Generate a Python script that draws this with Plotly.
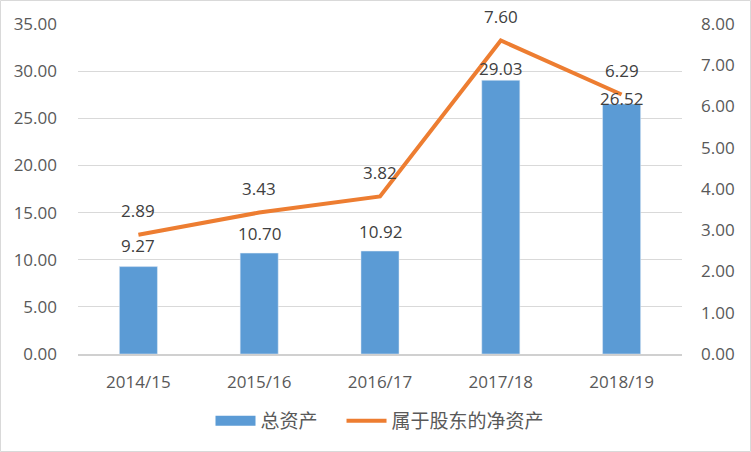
import plotly.graph_objects as go

categories = ["2014/15", "2015/16", "2016/17", "2017/18", "2018/19"]
total_assets = [9.27, 10.70, 10.92, 29.03, 26.52]
net_assets = [2.89, 3.43, 3.82, 7.60, 6.29]
bar_name = "总资产"
line_name = "属于股东的净资产"

left_ticks = [0, 5, 10, 15, 20, 25, 30, 35]
right_ticks = [0, 1, 2, 3, 4, 5, 6, 7, 8]

BLUE = "#5B9BD5"
ORANGE = "#ED7D31"
TXT = "#595959"
LBL = "#404040"
NUMFONT = "Open Sans"
CJK = "Noto Sans CJK SC"

W, H = 751, 452
ML, MR, MT, MB = 78, 69, 24, 98
PW, PH = W - ML - MR, H - MT - MB

# label shifts (px) for bar labels, as placed in the reference
bar_label_shift = [21, 20, 20, 12, 5]
line_label_shift = 24

fig = go.Figure()
fig.add_trace(go.Bar(x=categories, y=total_assets, marker_color=BLUE,
                     name=bar_name, showlegend=False, yaxis="y"))
# legend proxy for bars (em spaces widen the gap between legend entries)
fig.add_trace(go.Scatter(x=[None], y=[None], mode="lines", name=bar_name + "\u2003",
                         line=dict(color=BLUE, width=10), yaxis="y"))
fig.add_trace(go.Scatter(x=categories, y=net_assets, mode="lines", name=line_name,
                         line=dict(color=ORANGE, width=4), yaxis="y2"))

ann = []
for c, v, s in zip(categories, total_assets, bar_label_shift):
    ann.append(dict(x=c, y=v, xref="x", yref="y", text=f"{v:.2f}", showarrow=False,
                    yshift=s, font=dict(family=NUMFONT, size=17, color=LBL)))
for c, v in zip(categories, net_assets):
    ann.append(dict(x=c, y=v, xref="x", yref="y2", text=f"{v:.2f}", showarrow=False,
                    yshift=line_label_shift, font=dict(family=NUMFONT, size=17, color=LBL)))

fig.update_layout(
    width=W, height=H,
    margin=dict(l=ML, r=MR, t=MT, b=MB, pad=0),
    paper_bgcolor="white", plot_bgcolor="white",
    bargap=0.685,
    xaxis=dict(showgrid=False, showline=True, linecolor="#D0D0D0", linewidth=2,
               ticks="", ticklabelstandoff=12,
               tickfont=dict(family=NUMFONT, size=17, color=TXT)),
    yaxis=dict(range=[0, 35], tickvals=left_ticks, ticktext=[f"{t:.2f}" for t in left_ticks],
               showgrid=True, gridcolor="#D9D9D9", gridwidth=1, zeroline=False,
               showline=False, ticks="", ticklabelstandoff=20,
               tickfont=dict(family=NUMFONT, size=17, color=TXT)),
    yaxis2=dict(range=[0, 8], tickvals=right_ticks, ticktext=[f"{t:.2f}" for t in right_ticks],
                overlaying="y", side="right", showgrid=False, zeroline=False,
                showline=False, ticks="", ticklabelstandoff=18,
                tickfont=dict(family=NUMFONT, size=17, color=TXT)),
    legend=dict(orientation="h", x=0.5, xanchor="center", y=-(421 - (MT + PH)) / PH,
                yanchor="middle", itemwidth=40,
                font=dict(family=CJK, size=19, color=TXT), bgcolor="rgba(0,0,0,0)"),
    annotations=ann,
    shapes=[dict(type="rect", xref="paper", yref="paper",
                 x0=-(ML - 0.5) / PW, x1=1 + (MR - 0.5) / PW,
                 y0=-(MB - 0.5) / PH, y1=1 + (MT - 0.5) / PH,
                 line=dict(color="#D9D9D9", width=1), layer="below")],
)

fig.write_html("out.html")
